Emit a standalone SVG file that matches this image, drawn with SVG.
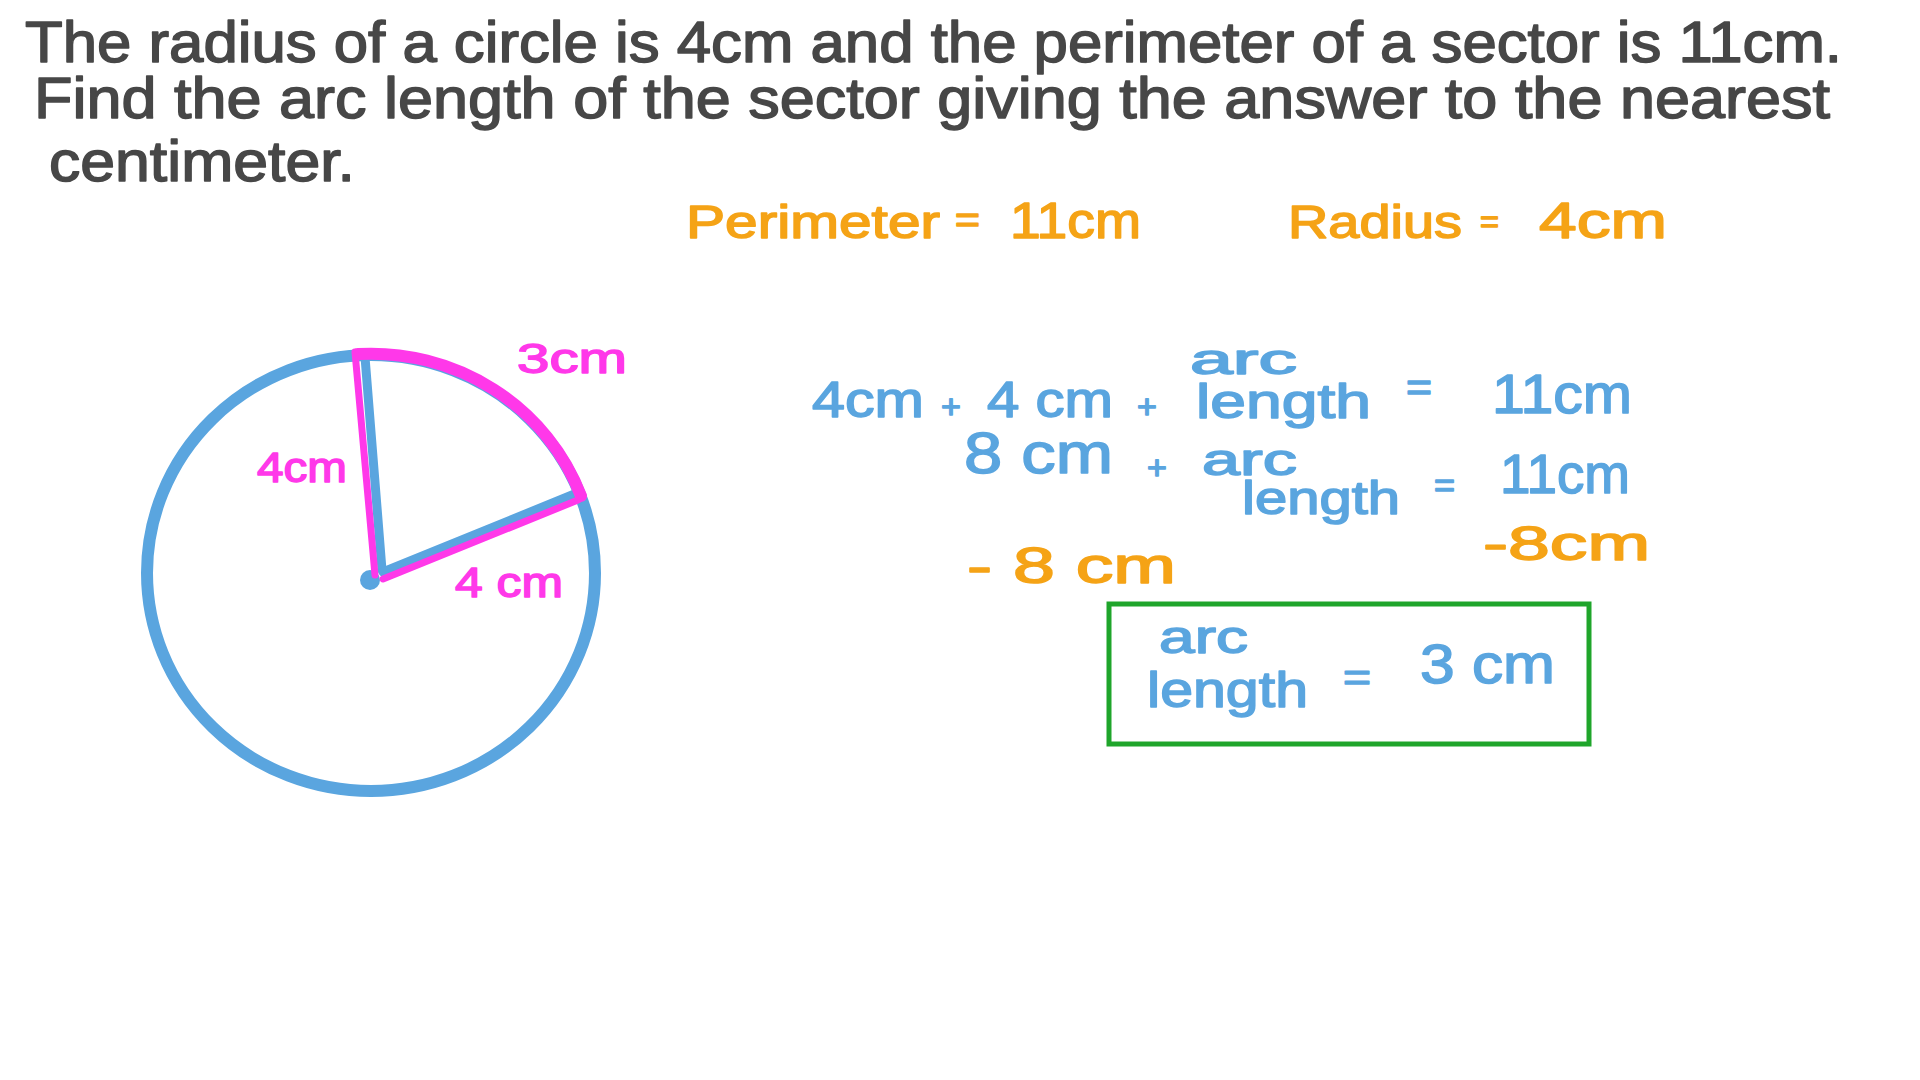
<svg xmlns="http://www.w3.org/2000/svg" width="1920" height="1080" viewBox="0 0 1920 1080">
<style>
text{font-family:"Liberation Sans","DejaVu Sans",sans-serif;stroke-linejoin:round;}
.q{fill:#474747;stroke:#474747;stroke-width:1.5;font-size:58px;}
.o{fill:#F5A316;stroke:#F5A316;stroke-width:1.5;}
.b{fill:#5AA5DF;stroke:#5AA5DF;stroke-width:1.5;}
.p{fill:#FF38E9;stroke:#FF38E9;stroke-width:1.5;}
</style>
<rect width="1920" height="1080" fill="#ffffff"/>
<g id="question">
<text class="q" x="25" y="62" textLength="1817" lengthAdjust="spacingAndGlyphs">The radius of a circle is 4cm and the perimeter of a sector is 11cm.</text>
<text class="q" x="34" y="118" textLength="1796" lengthAdjust="spacingAndGlyphs">Find the arc length of the sector giving the answer to the nearest</text>
<text class="q" x="49" y="181" textLength="306" lengthAdjust="spacingAndGlyphs">centimeter.</text>
</g>
<g id="givens">
<text class="o" x="686" y="238" font-size="46" textLength="254" lengthAdjust="spacingAndGlyphs">Perimeter</text>
<text class="o" x="955" y="232" font-size="36" textLength="25" lengthAdjust="spacingAndGlyphs">=</text>
<text class="o" x="1010" y="238" font-size="50" textLength="131" lengthAdjust="spacingAndGlyphs">11cm</text>
<text class="o" x="1288" y="238" font-size="46" textLength="174" lengthAdjust="spacingAndGlyphs">Radius</text>
<text class="o" x="1480" y="232" font-size="32" textLength="19" lengthAdjust="spacingAndGlyphs">=</text>
<text class="o" x="1539" y="238" font-size="50" textLength="128" lengthAdjust="spacingAndGlyphs">4cm</text>
</g>
<g id="circle-diagram">
<ellipse cx="371" cy="573" rx="224" ry="218" fill="none" stroke="#5AA5DF" stroke-width="12"/>
<line x1="365" y1="357" x2="382" y2="570" stroke="#5AA5DF" stroke-width="9" stroke-linecap="round"/>
<line x1="383" y1="572" x2="577" y2="493" stroke="#5AA5DF" stroke-width="9" stroke-linecap="round"/>
<circle cx="370" cy="580" r="10" fill="#5AA5DF"/>
<path d="M358 354 A224 218 0 0 1 581 496" fill="none" stroke="#FF38E9" stroke-width="12" stroke-linecap="round"/>
<polyline points="355,352 375,575" fill="none" stroke="#FF38E9" stroke-width="7" stroke-linecap="round"/>
<polyline points="383,579 578,500" fill="none" stroke="#FF38E9" stroke-width="7" stroke-linecap="round"/>
<text class="p" x="517" y="373" font-size="42" textLength="110" lengthAdjust="spacingAndGlyphs">3cm</text>
<text class="p" x="257" y="482" font-size="42" textLength="90" lengthAdjust="spacingAndGlyphs">4cm</text>
<text class="p" x="455" y="597" font-size="42" textLength="108" lengthAdjust="spacingAndGlyphs">4 cm</text>
</g>
<g id="equation-1">
<text class="b" x="812" y="417" font-size="50" textLength="112" lengthAdjust="spacingAndGlyphs">4cm</text>
<text class="b" x="941" y="418" font-size="34">+</text>
<text class="b" x="987" y="417" font-size="50" textLength="126" lengthAdjust="spacingAndGlyphs">4 cm</text>
<text class="b" x="1137" y="418" font-size="34">+</text>
<text class="b" x="1190" y="374" font-size="42" textLength="107" lengthAdjust="spacingAndGlyphs">arc</text>
<text class="b" x="1196" y="418" font-size="48" textLength="175" lengthAdjust="spacingAndGlyphs">length</text>
<text class="b" x="1406" y="401" font-size="40" textLength="26" lengthAdjust="spacingAndGlyphs">=</text>
<text class="b" x="1492" y="413" font-size="56" textLength="140" lengthAdjust="spacingAndGlyphs">11cm</text>
</g>
<g id="equation-2">
<text class="b" x="964" y="473" font-size="58" textLength="149" lengthAdjust="spacingAndGlyphs">8 cm</text>
<text class="b" x="1147" y="479" font-size="34">+</text>
<text class="b" x="1202" y="475" font-size="44" textLength="95" lengthAdjust="spacingAndGlyphs">arc</text>
<text class="b" x="1242" y="514" font-size="46" textLength="158" lengthAdjust="spacingAndGlyphs">length</text>
<text class="b" x="1434" y="497" font-size="34" textLength="21" lengthAdjust="spacingAndGlyphs">=</text>
<text class="b" x="1500" y="493" font-size="56" textLength="130" lengthAdjust="spacingAndGlyphs">11cm</text>
</g>
<g id="subtract">
<text class="o" x="967" y="583" font-size="50" textLength="209" lengthAdjust="spacingAndGlyphs">- 8 cm</text>
<text class="o" x="1483" y="560" font-size="48" textLength="167" lengthAdjust="spacingAndGlyphs">-8cm</text>
</g>
<g id="answer-box">
<rect x="1109" y="604" width="480" height="140" fill="none" stroke="#1FA52B" stroke-width="5"/>
<text class="b" x="1159" y="653" font-size="46" textLength="89" lengthAdjust="spacingAndGlyphs">arc</text>
<text class="b" x="1147" y="707" font-size="50" textLength="161" lengthAdjust="spacingAndGlyphs">length</text>
<text class="b" x="1343" y="691" font-size="38" textLength="28" lengthAdjust="spacingAndGlyphs">=</text>
<text class="b" x="1420" y="683" font-size="56" textLength="135" lengthAdjust="spacingAndGlyphs">3 cm</text>
</g>
</svg>
